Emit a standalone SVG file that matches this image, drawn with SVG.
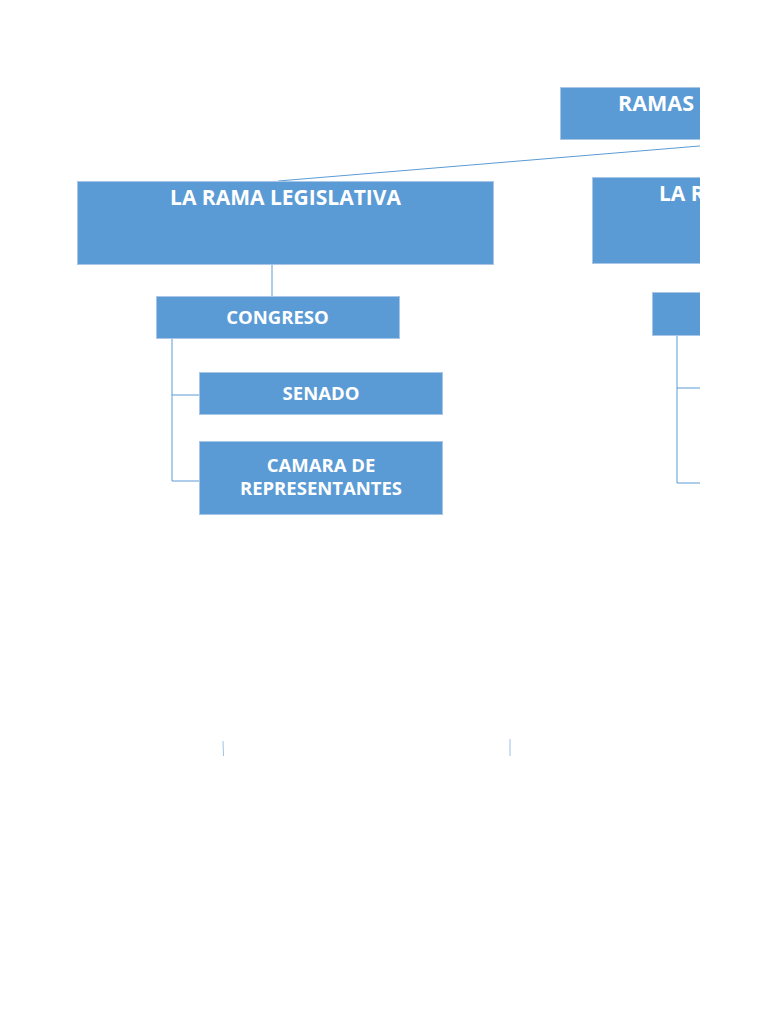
<svg xmlns="http://www.w3.org/2000/svg" width="768" height="1024" viewBox="0 0 768 1024">
<defs>
<style>
.box{fill:#5B9BD5;stroke:#A9C6E6;stroke-width:1}
.t{font-family:"Open Sans","Liberation Sans",sans-serif;font-weight:bold;font-size:18.5px;fill:#FFFFFF;text-anchor:middle}
.big{font-size:21.5px}
.s{text-anchor:start}
.c{stroke:#5B9BD5;stroke-width:1;fill:none}
</style>
<clipPath id="page"><rect x="0" y="0" width="700" height="1024"/></clipPath>
</defs>
<rect width="768" height="1024" fill="#FFFFFF"/>
<g clip-path="url(#page)">
<g id="connectors">
<line class="c" x1="760" y1="141" x2="278" y2="181"/>
<line class="c" x1="272" y1="265" x2="272" y2="296"/>
<polyline class="c" points="172,339 172,481 199,481"/>
<line class="c" x1="172" y1="395" x2="199" y2="395"/>
<polyline class="c" points="677,336 677,483 720,483"/>
<line class="c" x1="677" y1="388" x2="720" y2="388"/>
<line class="c" x1="223" y1="741" x2="223.5" y2="756" stroke-opacity="0.6"/>
<line class="c" x1="510" y1="739" x2="510" y2="756" stroke-opacity="0.6"/>
</g>
<g id="ramas">
<rect class="box" x="560.5" y="87.5" width="200" height="52"/>
<text class="t big s" x="618" y="111">RAMAS</text>
</g>
<g id="legislativa">
<rect class="box" x="77.5" y="181.5" width="416" height="83"/>
<text class="t" x="285.5" y="205" style="font-size:21px">LA RAMA LEGISLATIVA</text>
</g>
<g id="ejecutiva">
<rect class="box" x="592.5" y="177.5" width="200" height="86"/>
<text class="t s" x="659" y="200.5" style="font-size:21px">LA R</text>
</g>
<g id="congreso">
<rect class="box" x="156.5" y="296.5" width="243" height="42"/>
<text class="t" x="277.5" y="324">CONGRESO</text>
</g>
<g id="ejec-child">
<rect class="box" x="652.5" y="292.5" width="200" height="43"/>
</g>
<g id="senado">
<rect class="box" x="199.5" y="372.5" width="243" height="42"/>
<text class="t" x="321" y="400">SENADO</text>
</g>
<g id="camara">
<rect class="box" x="199.5" y="441.5" width="243" height="73"/>
<text class="t" x="321" y="472">CAMARA DE</text>
<text class="t" x="321" y="495">REPRESENTANTES</text>
</g>
</g>
</svg>
